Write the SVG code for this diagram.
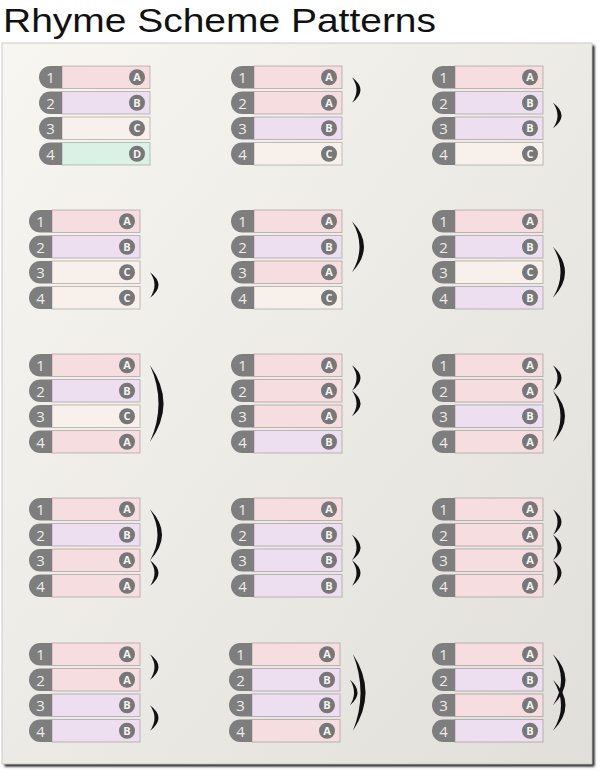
<svg xmlns="http://www.w3.org/2000/svg" xmlns:xlink="http://www.w3.org/1999/xlink" width="600" height="772" viewBox="0 0 600 772">
<style>
.title{font-family:"Liberation Sans","Open Sans",sans-serif;font-size:34px;fill:#111}
.box{stroke:#000;stroke-opacity:0.22;stroke-width:1}
.a{fill:#f6dde0}.b{fill:#eddff0}.c{fill:#f8f0ea}.d{fill:#d9f2e5}
.badge{fill:#7e7e7e}
.num{font-family:"Open Sans","Noto Sans","Liberation Sans",sans-serif;font-size:15px;fill:#ececec;text-anchor:middle}
.dot{fill:#777}
.let{font-family:"Open Sans","Noto Sans","Liberation Sans",sans-serif;font-size:11px;font-weight:bold;fill:#f4f4f4;text-anchor:middle}
.br{fill:#111}
</style>
<defs>
<linearGradient id="pg" x1="0" y1="0" x2="1" y2="1">
<stop offset="0" stop-color="#f8f6f1"/>
<stop offset="1" stop-color="#e1dfda"/>
</linearGradient>
<filter id="blur" x="-5%" y="-5%" width="110%" height="110%"><feGaussianBlur stdDeviation="1.2"/></filter>
<path id="bd" class="badge" d="M23,0H11.25A11.25,11.25 0 0 0 11.25,22.5H23Z"/>
</defs>
<text class="title" x="3" y="31.5" textLength="433" lengthAdjust="spacingAndGlyphs">Rhyme Scheme Patterns</text>
<g id="panel">
<rect x="4.5" y="45.5" width="590" height="721" fill="#1a1a1a" filter="url(#blur)"/>
<rect x="2" y="43" width="590" height="721" fill="url(#pg)" stroke="#c9c9c6" stroke-width="1"/>
</g>

<g id="scheme-abcd" transform="translate(39,66)">
<g id="abcd-1"><rect class="box a" x="23" y="0" width="88" height="22.5"/><use xlink:href="#bd"/><text class="num" x="11.5" y="17">1</text><circle class="dot" cx="98" cy="11.25" r="8"/><text class="let" x="98" y="15.2">A</text></g>
<g id="abcd-2" transform="translate(0,25.5)"><rect class="box b" x="23" y="0" width="88" height="22.5"/><use xlink:href="#bd"/><text class="num" x="11.5" y="17">2</text><circle class="dot" cx="98" cy="11.25" r="8"/><text class="let" x="98" y="15.2">B</text></g>
<g id="abcd-3" transform="translate(0,51)"><rect class="box c" x="23" y="0" width="88" height="22.5"/><use xlink:href="#bd"/><text class="num" x="11.5" y="17">3</text><circle class="dot" cx="98" cy="11.25" r="8"/><text class="let" x="98" y="15.2">C</text></g>
<g id="abcd-4" transform="translate(0,76.5)"><rect class="box d" x="23" y="0" width="88" height="22.5"/><use xlink:href="#bd"/><text class="num" x="11.5" y="17">4</text><circle class="dot" cx="98" cy="11.25" r="8"/><text class="let" x="98" y="15.2">D</text></g>
</g>

<g id="scheme-aabc" transform="translate(231,66)">
<g id="aabc-1"><rect class="box a" x="23" y="0" width="88" height="22.5"/><use xlink:href="#bd"/><text class="num" x="11.5" y="17">1</text><circle class="dot" cx="98" cy="11.25" r="8"/><text class="let" x="98" y="15.2">A</text></g>
<g id="aabc-2" transform="translate(0,25.5)"><rect class="box a" x="23" y="0" width="88" height="22.5"/><use xlink:href="#bd"/><text class="num" x="11.5" y="17">2</text><circle class="dot" cx="98" cy="11.25" r="8"/><text class="let" x="98" y="15.2">A</text></g>
<g id="aabc-3" transform="translate(0,51)"><rect class="box b" x="23" y="0" width="88" height="22.5"/><use xlink:href="#bd"/><text class="num" x="11.5" y="17">3</text><circle class="dot" cx="98" cy="11.25" r="8"/><text class="let" x="98" y="15.2">B</text></g>
<g id="aabc-4" transform="translate(0,76.5)"><rect class="box c" x="23" y="0" width="88" height="22.5"/><use xlink:href="#bd"/><text class="num" x="11.5" y="17">4</text><circle class="dot" cx="98" cy="11.25" r="8"/><text class="let" x="98" y="15.2">C</text></g>
</g>

<g id="scheme-abbc" transform="translate(432,66)">
<g id="abbc-1"><rect class="box a" x="23" y="0" width="88" height="22.5"/><use xlink:href="#bd"/><text class="num" x="11.5" y="17">1</text><circle class="dot" cx="98" cy="11.25" r="8"/><text class="let" x="98" y="15.2">A</text></g>
<g id="abbc-2" transform="translate(0,25.5)"><rect class="box b" x="23" y="0" width="88" height="22.5"/><use xlink:href="#bd"/><text class="num" x="11.5" y="17">2</text><circle class="dot" cx="98" cy="11.25" r="8"/><text class="let" x="98" y="15.2">B</text></g>
<g id="abbc-3" transform="translate(0,51)"><rect class="box b" x="23" y="0" width="88" height="22.5"/><use xlink:href="#bd"/><text class="num" x="11.5" y="17">3</text><circle class="dot" cx="98" cy="11.25" r="8"/><text class="let" x="98" y="15.2">B</text></g>
<g id="abbc-4" transform="translate(0,76.5)"><rect class="box c" x="23" y="0" width="88" height="22.5"/><use xlink:href="#bd"/><text class="num" x="11.5" y="17">4</text><circle class="dot" cx="98" cy="11.25" r="8"/><text class="let" x="98" y="15.2">C</text></g>
</g>

<g id="scheme-abcc" transform="translate(29,210)">
<g id="abcc-1"><rect class="box a" x="23" y="0" width="88" height="22.5"/><use xlink:href="#bd"/><text class="num" x="11.5" y="17">1</text><circle class="dot" cx="98" cy="11.25" r="8"/><text class="let" x="98" y="15.2">A</text></g>
<g id="abcc-2" transform="translate(0,25.5)"><rect class="box b" x="23" y="0" width="88" height="22.5"/><use xlink:href="#bd"/><text class="num" x="11.5" y="17">2</text><circle class="dot" cx="98" cy="11.25" r="8"/><text class="let" x="98" y="15.2">B</text></g>
<g id="abcc-3" transform="translate(0,51)"><rect class="box c" x="23" y="0" width="88" height="22.5"/><use xlink:href="#bd"/><text class="num" x="11.5" y="17">3</text><circle class="dot" cx="98" cy="11.25" r="8"/><text class="let" x="98" y="15.2">C</text></g>
<g id="abcc-4" transform="translate(0,76.5)"><rect class="box c" x="23" y="0" width="88" height="22.5"/><use xlink:href="#bd"/><text class="num" x="11.5" y="17">4</text><circle class="dot" cx="98" cy="11.25" r="8"/><text class="let" x="98" y="15.2">C</text></g>
</g>

<g id="scheme-abac" transform="translate(231,210)">
<g id="abac-1"><rect class="box a" x="23" y="0" width="88" height="22.5"/><use xlink:href="#bd"/><text class="num" x="11.5" y="17">1</text><circle class="dot" cx="98" cy="11.25" r="8"/><text class="let" x="98" y="15.2">A</text></g>
<g id="abac-2" transform="translate(0,25.5)"><rect class="box b" x="23" y="0" width="88" height="22.5"/><use xlink:href="#bd"/><text class="num" x="11.5" y="17">2</text><circle class="dot" cx="98" cy="11.25" r="8"/><text class="let" x="98" y="15.2">B</text></g>
<g id="abac-3" transform="translate(0,51)"><rect class="box a" x="23" y="0" width="88" height="22.5"/><use xlink:href="#bd"/><text class="num" x="11.5" y="17">3</text><circle class="dot" cx="98" cy="11.25" r="8"/><text class="let" x="98" y="15.2">A</text></g>
<g id="abac-4" transform="translate(0,76.5)"><rect class="box c" x="23" y="0" width="88" height="22.5"/><use xlink:href="#bd"/><text class="num" x="11.5" y="17">4</text><circle class="dot" cx="98" cy="11.25" r="8"/><text class="let" x="98" y="15.2">C</text></g>
</g>

<g id="scheme-abcb" transform="translate(432,210)">
<g id="abcb-1"><rect class="box a" x="23" y="0" width="88" height="22.5"/><use xlink:href="#bd"/><text class="num" x="11.5" y="17">1</text><circle class="dot" cx="98" cy="11.25" r="8"/><text class="let" x="98" y="15.2">A</text></g>
<g id="abcb-2" transform="translate(0,25.5)"><rect class="box b" x="23" y="0" width="88" height="22.5"/><use xlink:href="#bd"/><text class="num" x="11.5" y="17">2</text><circle class="dot" cx="98" cy="11.25" r="8"/><text class="let" x="98" y="15.2">B</text></g>
<g id="abcb-3" transform="translate(0,51)"><rect class="box c" x="23" y="0" width="88" height="22.5"/><use xlink:href="#bd"/><text class="num" x="11.5" y="17">3</text><circle class="dot" cx="98" cy="11.25" r="8"/><text class="let" x="98" y="15.2">C</text></g>
<g id="abcb-4" transform="translate(0,76.5)"><rect class="box b" x="23" y="0" width="88" height="22.5"/><use xlink:href="#bd"/><text class="num" x="11.5" y="17">4</text><circle class="dot" cx="98" cy="11.25" r="8"/><text class="let" x="98" y="15.2">B</text></g>
</g>

<g id="scheme-abca" transform="translate(29,354)">
<g id="abca-1"><rect class="box a" x="23" y="0" width="88" height="22.5"/><use xlink:href="#bd"/><text class="num" x="11.5" y="17">1</text><circle class="dot" cx="98" cy="11.25" r="8"/><text class="let" x="98" y="15.2">A</text></g>
<g id="abca-2" transform="translate(0,25.5)"><rect class="box b" x="23" y="0" width="88" height="22.5"/><use xlink:href="#bd"/><text class="num" x="11.5" y="17">2</text><circle class="dot" cx="98" cy="11.25" r="8"/><text class="let" x="98" y="15.2">B</text></g>
<g id="abca-3" transform="translate(0,51)"><rect class="box c" x="23" y="0" width="88" height="22.5"/><use xlink:href="#bd"/><text class="num" x="11.5" y="17">3</text><circle class="dot" cx="98" cy="11.25" r="8"/><text class="let" x="98" y="15.2">C</text></g>
<g id="abca-4" transform="translate(0,76.5)"><rect class="box a" x="23" y="0" width="88" height="22.5"/><use xlink:href="#bd"/><text class="num" x="11.5" y="17">4</text><circle class="dot" cx="98" cy="11.25" r="8"/><text class="let" x="98" y="15.2">A</text></g>
</g>

<g id="scheme-aaab" transform="translate(231,354)">
<g id="aaab-1"><rect class="box a" x="23" y="0" width="88" height="22.5"/><use xlink:href="#bd"/><text class="num" x="11.5" y="17">1</text><circle class="dot" cx="98" cy="11.25" r="8"/><text class="let" x="98" y="15.2">A</text></g>
<g id="aaab-2" transform="translate(0,25.5)"><rect class="box a" x="23" y="0" width="88" height="22.5"/><use xlink:href="#bd"/><text class="num" x="11.5" y="17">2</text><circle class="dot" cx="98" cy="11.25" r="8"/><text class="let" x="98" y="15.2">A</text></g>
<g id="aaab-3" transform="translate(0,51)"><rect class="box a" x="23" y="0" width="88" height="22.5"/><use xlink:href="#bd"/><text class="num" x="11.5" y="17">3</text><circle class="dot" cx="98" cy="11.25" r="8"/><text class="let" x="98" y="15.2">A</text></g>
<g id="aaab-4" transform="translate(0,76.5)"><rect class="box b" x="23" y="0" width="88" height="22.5"/><use xlink:href="#bd"/><text class="num" x="11.5" y="17">4</text><circle class="dot" cx="98" cy="11.25" r="8"/><text class="let" x="98" y="15.2">B</text></g>
</g>

<g id="scheme-aaba" transform="translate(432,354)">
<g id="aaba-1"><rect class="box a" x="23" y="0" width="88" height="22.5"/><use xlink:href="#bd"/><text class="num" x="11.5" y="17">1</text><circle class="dot" cx="98" cy="11.25" r="8"/><text class="let" x="98" y="15.2">A</text></g>
<g id="aaba-2" transform="translate(0,25.5)"><rect class="box a" x="23" y="0" width="88" height="22.5"/><use xlink:href="#bd"/><text class="num" x="11.5" y="17">2</text><circle class="dot" cx="98" cy="11.25" r="8"/><text class="let" x="98" y="15.2">A</text></g>
<g id="aaba-3" transform="translate(0,51)"><rect class="box b" x="23" y="0" width="88" height="22.5"/><use xlink:href="#bd"/><text class="num" x="11.5" y="17">3</text><circle class="dot" cx="98" cy="11.25" r="8"/><text class="let" x="98" y="15.2">B</text></g>
<g id="aaba-4" transform="translate(0,76.5)"><rect class="box a" x="23" y="0" width="88" height="22.5"/><use xlink:href="#bd"/><text class="num" x="11.5" y="17">4</text><circle class="dot" cx="98" cy="11.25" r="8"/><text class="let" x="98" y="15.2">A</text></g>
</g>

<g id="scheme-abaa" transform="translate(29,498)">
<g id="abaa-1"><rect class="box a" x="23" y="0" width="88" height="22.5"/><use xlink:href="#bd"/><text class="num" x="11.5" y="17">1</text><circle class="dot" cx="98" cy="11.25" r="8"/><text class="let" x="98" y="15.2">A</text></g>
<g id="abaa-2" transform="translate(0,25.5)"><rect class="box b" x="23" y="0" width="88" height="22.5"/><use xlink:href="#bd"/><text class="num" x="11.5" y="17">2</text><circle class="dot" cx="98" cy="11.25" r="8"/><text class="let" x="98" y="15.2">B</text></g>
<g id="abaa-3" transform="translate(0,51)"><rect class="box a" x="23" y="0" width="88" height="22.5"/><use xlink:href="#bd"/><text class="num" x="11.5" y="17">3</text><circle class="dot" cx="98" cy="11.25" r="8"/><text class="let" x="98" y="15.2">A</text></g>
<g id="abaa-4" transform="translate(0,76.5)"><rect class="box a" x="23" y="0" width="88" height="22.5"/><use xlink:href="#bd"/><text class="num" x="11.5" y="17">4</text><circle class="dot" cx="98" cy="11.25" r="8"/><text class="let" x="98" y="15.2">A</text></g>
</g>

<g id="scheme-abbb" transform="translate(231,498)">
<g id="abbb-1"><rect class="box a" x="23" y="0" width="88" height="22.5"/><use xlink:href="#bd"/><text class="num" x="11.5" y="17">1</text><circle class="dot" cx="98" cy="11.25" r="8"/><text class="let" x="98" y="15.2">A</text></g>
<g id="abbb-2" transform="translate(0,25.5)"><rect class="box b" x="23" y="0" width="88" height="22.5"/><use xlink:href="#bd"/><text class="num" x="11.5" y="17">2</text><circle class="dot" cx="98" cy="11.25" r="8"/><text class="let" x="98" y="15.2">B</text></g>
<g id="abbb-3" transform="translate(0,51)"><rect class="box b" x="23" y="0" width="88" height="22.5"/><use xlink:href="#bd"/><text class="num" x="11.5" y="17">3</text><circle class="dot" cx="98" cy="11.25" r="8"/><text class="let" x="98" y="15.2">B</text></g>
<g id="abbb-4" transform="translate(0,76.5)"><rect class="box b" x="23" y="0" width="88" height="22.5"/><use xlink:href="#bd"/><text class="num" x="11.5" y="17">4</text><circle class="dot" cx="98" cy="11.25" r="8"/><text class="let" x="98" y="15.2">B</text></g>
</g>

<g id="scheme-aaaa" transform="translate(432,498)">
<g id="aaaa-1"><rect class="box a" x="23" y="0" width="88" height="22.5"/><use xlink:href="#bd"/><text class="num" x="11.5" y="17">1</text><circle class="dot" cx="98" cy="11.25" r="8"/><text class="let" x="98" y="15.2">A</text></g>
<g id="aaaa-2" transform="translate(0,25.5)"><rect class="box a" x="23" y="0" width="88" height="22.5"/><use xlink:href="#bd"/><text class="num" x="11.5" y="17">2</text><circle class="dot" cx="98" cy="11.25" r="8"/><text class="let" x="98" y="15.2">A</text></g>
<g id="aaaa-3" transform="translate(0,51)"><rect class="box a" x="23" y="0" width="88" height="22.5"/><use xlink:href="#bd"/><text class="num" x="11.5" y="17">3</text><circle class="dot" cx="98" cy="11.25" r="8"/><text class="let" x="98" y="15.2">A</text></g>
<g id="aaaa-4" transform="translate(0,76.5)"><rect class="box a" x="23" y="0" width="88" height="22.5"/><use xlink:href="#bd"/><text class="num" x="11.5" y="17">4</text><circle class="dot" cx="98" cy="11.25" r="8"/><text class="let" x="98" y="15.2">A</text></g>
</g>

<g id="scheme-aabb" transform="translate(29,643)">
<g id="aabb-1"><rect class="box a" x="23" y="0" width="88" height="22.5"/><use xlink:href="#bd"/><text class="num" x="11.5" y="17">1</text><circle class="dot" cx="98" cy="11.25" r="8"/><text class="let" x="98" y="15.2">A</text></g>
<g id="aabb-2" transform="translate(0,25.5)"><rect class="box a" x="23" y="0" width="88" height="22.5"/><use xlink:href="#bd"/><text class="num" x="11.5" y="17">2</text><circle class="dot" cx="98" cy="11.25" r="8"/><text class="let" x="98" y="15.2">A</text></g>
<g id="aabb-3" transform="translate(0,51)"><rect class="box b" x="23" y="0" width="88" height="22.5"/><use xlink:href="#bd"/><text class="num" x="11.5" y="17">3</text><circle class="dot" cx="98" cy="11.25" r="8"/><text class="let" x="98" y="15.2">B</text></g>
<g id="aabb-4" transform="translate(0,76.5)"><rect class="box b" x="23" y="0" width="88" height="22.5"/><use xlink:href="#bd"/><text class="num" x="11.5" y="17">4</text><circle class="dot" cx="98" cy="11.25" r="8"/><text class="let" x="98" y="15.2">B</text></g>
</g>

<g id="scheme-abba" transform="translate(229,643)">
<g id="abba-1"><rect class="box a" x="23" y="0" width="88" height="22.5"/><use xlink:href="#bd"/><text class="num" x="11.5" y="17">1</text><circle class="dot" cx="98" cy="11.25" r="8"/><text class="let" x="98" y="15.2">A</text></g>
<g id="abba-2" transform="translate(0,25.5)"><rect class="box b" x="23" y="0" width="88" height="22.5"/><use xlink:href="#bd"/><text class="num" x="11.5" y="17">2</text><circle class="dot" cx="98" cy="11.25" r="8"/><text class="let" x="98" y="15.2">B</text></g>
<g id="abba-3" transform="translate(0,51)"><rect class="box b" x="23" y="0" width="88" height="22.5"/><use xlink:href="#bd"/><text class="num" x="11.5" y="17">3</text><circle class="dot" cx="98" cy="11.25" r="8"/><text class="let" x="98" y="15.2">B</text></g>
<g id="abba-4" transform="translate(0,76.5)"><rect class="box a" x="23" y="0" width="88" height="22.5"/><use xlink:href="#bd"/><text class="num" x="11.5" y="17">4</text><circle class="dot" cx="98" cy="11.25" r="8"/><text class="let" x="98" y="15.2">A</text></g>
</g>

<g id="scheme-abab" transform="translate(432,643)">
<g id="abab-1"><rect class="box a" x="23" y="0" width="88" height="22.5"/><use xlink:href="#bd"/><text class="num" x="11.5" y="17">1</text><circle class="dot" cx="98" cy="11.25" r="8"/><text class="let" x="98" y="15.2">A</text></g>
<g id="abab-2" transform="translate(0,25.5)"><rect class="box b" x="23" y="0" width="88" height="22.5"/><use xlink:href="#bd"/><text class="num" x="11.5" y="17">2</text><circle class="dot" cx="98" cy="11.25" r="8"/><text class="let" x="98" y="15.2">B</text></g>
<g id="abab-3" transform="translate(0,51)"><rect class="box a" x="23" y="0" width="88" height="22.5"/><use xlink:href="#bd"/><text class="num" x="11.5" y="17">3</text><circle class="dot" cx="98" cy="11.25" r="8"/><text class="let" x="98" y="15.2">A</text></g>
<g id="abab-4" transform="translate(0,76.5)"><rect class="box b" x="23" y="0" width="88" height="22.5"/><use xlink:href="#bd"/><text class="num" x="11.5" y="17">4</text><circle class="dot" cx="98" cy="11.25" r="8"/><text class="let" x="98" y="15.2">B</text></g>
</g>

<g id="connectors">
<path class="br" d="M352,77.25Q369,90 352,102.75Q361,90 352,77.25Z"/>
<path class="br" d="M553,102.75Q570,115.5 553,128.25Q562,115.5 553,102.75Z"/>
<path class="br" d="M150,272.25Q167,285 150,297.75Q159,285 150,272.25Z"/>
<path class="br" d="M352,221.25Q376,246.75 352,272.25Q367,246.75 352,221.25Z"/>
<path class="br" d="M553,246.75Q577,272.25 553,297.75Q568,272.25 553,246.75Z"/>
<path class="br" d="M150,365.25Q177,403.5 150,441.75Q167,403.5 150,365.25Z"/>
<path class="br" d="M352,365.25Q369,378 352,390.75Q361,378 352,365.25Z"/>
<path class="br" d="M352,390.75Q369,403.5 352,416.25Q361,403.5 352,390.75Z"/>
<path class="br" d="M553,365.25Q570,378 553,390.75Q562,378 553,365.25Z"/>
<path class="br" d="M553,390.75Q577,416.25 553,441.75Q568,416.25 553,390.75Z"/>
<path class="br" d="M150,509.25Q174,534.75 150,560.25Q165,534.75 150,509.25Z"/>
<path class="br" d="M150,560.25Q167,573 150,585.75Q159,573 150,560.25Z"/>
<path class="br" d="M352,534.75Q369,547.5 352,560.25Q361,547.5 352,534.75Z"/>
<path class="br" d="M352,560.25Q369,573 352,585.75Q361,573 352,560.25Z"/>
<path class="br" d="M553,509.25Q570,522 553,534.75Q562,522 553,509.25Z"/>
<path class="br" d="M553,534.75Q570,547.5 553,560.25Q562,547.5 553,534.75Z"/>
<path class="br" d="M553,560.25Q570,573 553,585.75Q562,573 553,560.25Z"/>
<path class="br" d="M150,654.25Q167,667 150,679.75Q159,667 150,654.25Z"/>
<path class="br" d="M150,705.25Q167,718 150,730.75Q159,718 150,705.25Z"/>
<path class="br" d="M353,654.25Q378,692.5 353,730.75Q368,692.5 353,654.25Z"/>
<path class="br" d="M350,679.75Q365,692.5 350,705.25Q358,692.5 350,679.75Z"/>
<path class="br" d="M553,654.25Q578,679.75 553,705.25Q569,679.75 553,654.25Z"/>
<path class="br" d="M553,679.75Q578,705.25 553,730.75Q569,705.25 553,679.75Z"/>
</g>
</svg>
